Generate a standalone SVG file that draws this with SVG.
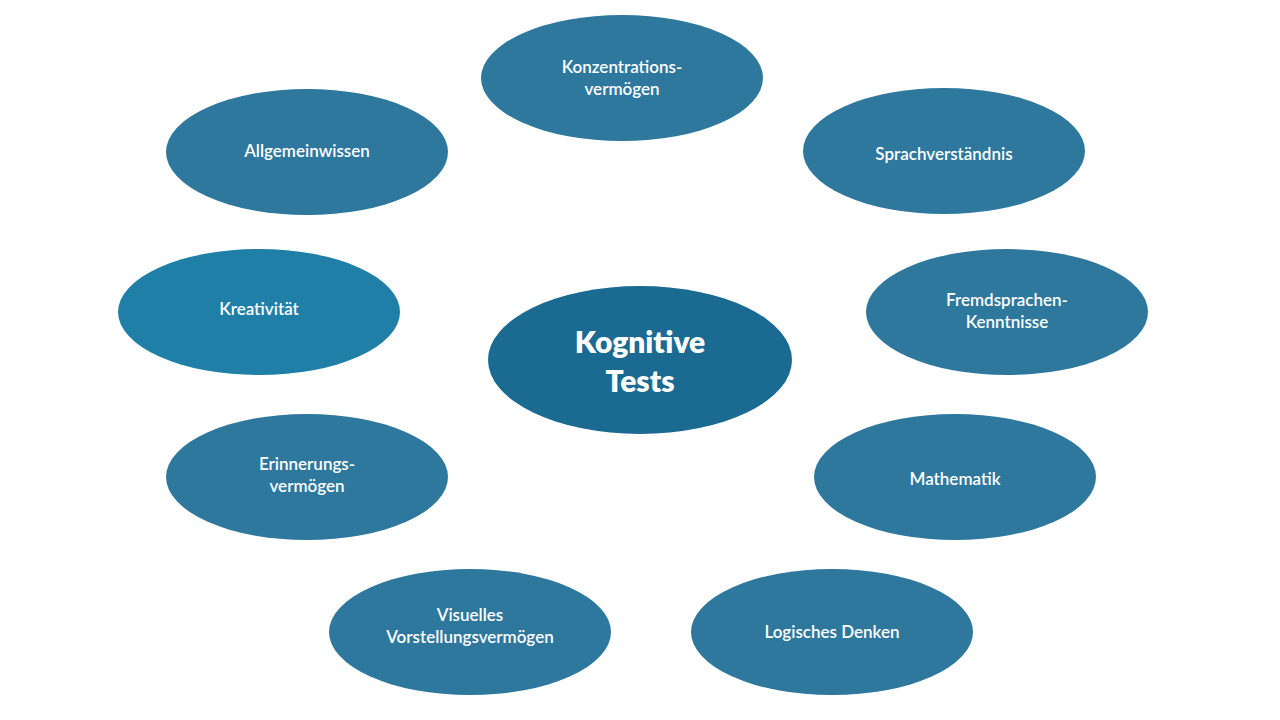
<svg xmlns="http://www.w3.org/2000/svg" width="1280" height="720" viewBox="0 0 1280 720">
<style>
.n{fill:#2e779d}
.t{fill:#fff;font-family:Lato,"Noto Sans",sans-serif;font-size:17px;font-weight:600;text-anchor:middle}
.c{font-size:30px;font-weight:800}
</style>
<rect width="1280" height="720" fill="#fff"/>
<g id="connectors"/>
<g id="center"><ellipse cx="640" cy="360" rx="152" ry="74" fill="#1b6a92"/><text class="t c" x="640" y="353">Kognitive</text><text class="t c" x="640" y="392">Tests</text></g>
<g id="konz"><ellipse class="n" cx="622" cy="78" rx="141" ry="63"/><text class="t" x="622" y="73">Konzentrations-</text><text class="t" x="622" y="95">vermögen</text></g>
<g id="allg"><ellipse class="n" cx="307" cy="152" rx="141" ry="63"/><text class="t" x="307" y="157">Allgemeinwissen</text></g>
<g id="sprach"><ellipse class="n" cx="944" cy="151" rx="141" ry="63"/><text class="t" x="944" y="160">Sprachverständnis</text></g>
<g id="krea"><ellipse cx="259" cy="312" rx="141" ry="63" fill="#1f7fa6"/><text class="t" x="259" y="315">Kreativität</text></g>
<g id="fremd"><ellipse class="n" cx="1007" cy="312" rx="141" ry="63"/><text class="t" x="1007" y="306">Fremdsprachen-</text><text class="t" x="1007" y="328">Kenntnisse</text></g>
<g id="erin"><ellipse class="n" cx="307" cy="477" rx="141" ry="63"/><text class="t" x="307" y="470">Erinnerungs-</text><text class="t" x="307" y="492">vermögen</text></g>
<g id="math"><ellipse class="n" cx="955" cy="477" rx="141" ry="63"/><text class="t" x="955" y="485">Mathematik</text></g>
<g id="vis"><ellipse class="n" cx="470" cy="632" rx="141" ry="63"/><text class="t" x="470" y="621">Visuelles</text><text class="t" x="470" y="643">Vorstellungsvermögen</text></g>
<g id="log"><ellipse class="n" cx="832" cy="632" rx="141" ry="63"/><text class="t" x="832" y="638">Logisches Denken</text></g>
</svg>
